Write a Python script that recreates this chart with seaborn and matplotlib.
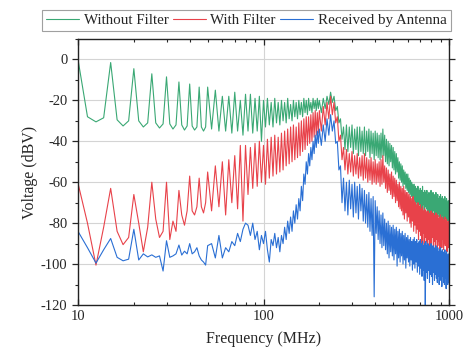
import numpy as np
import pandas as pd
import matplotlib
matplotlib.use('Agg')
import matplotlib.pyplot as plt
import seaborn as sns
from matplotlib.ticker import MultipleLocator, LogLocator, NullFormatter

# frequency grids (MHz) of the three parts of the spectrum
freq_a = np.arange(10, 50, 1.25)
freq_b = np.arange(50, 200, 2.5)
freq_c = np.arange(200, 1000.1, 5)

# Without Filter (dBV)
green_a = [0, -28, -30.5, -28.5, -1.5, -29.5, -32.5, -30, -4.5, -30, -33, -31,
           -7, -31, -33.5, -31.5, -8.5, -31.5, -34, -32, -11, -32, -34.5, -32.5,
           -12, -32.5, -34.5, -33, -13.5, -33, -35, -33]
green_b = [-13.5, -34, -15, -35, -18, -35, -18, -36, -16, -35, -20, -37, -17, -35, -17, -36,
           -19, -35, -18, -40, -20, -33, -19, -32, -21, -33, -19, -31, -21, -32, -20, -30,
           -21, -31, -19, -29, -22, -30, -20, -28, -21, -29, -20, -27, -21, -28, -19, -26,
           -20, -27, -19, -25, -21, -26, -19, -24, -20, -25, -19, -24]
green_c = [-20, -26, -19, -24, -18, -22, -16, -21, -18, -25,
           -23, -31, -29, -39, -33, -44, -32, -45, -33, -43,
           -32, -46, -34, -44, -33, -47, -33, -45, -35, -46,
           -33, -47, -35, -45, -34, -48, -35, -46, -36, -49,
           -35, -47, -36, -48, -37, -49, -36, -48, -34, -47,
           -37, -50, -39, -51, -40, -52, -41, -50, -42, -53,
           -43, -54, -45, -56, -46, -55, -48, -58, -50, -59,
           -51, -60, -52, -62, -54, -61, -55, -63, -56, -64,
           -56, -65, -58, -66, -59, -67, -60, -68, -61, -69,
           -61, -70, -62, -71, -63, -70, -62, -72, -64, -71,
           -63, -72, -64, -73, -62, -71, -65, -74, -64, -72,
           -65, -73, -64, -75, -66, -74, -65, -76, -66, -74,
           -64, -75, -66, -76, -65, -74, -67, -77, -66, -75,
           -65, -76, -67, -78, -66, -75, -68, -77, -67, -76,
           -66, -77, -68, -78, -67, -76, -69, -79, -68, -77,
           -67, -78, -69, -77, -68, -79, -70, -78, -69, -80, -71]

# With Filter (dBV)
red_a = [-60.5, -80, -100.5, -82, -63, -84, -90.5, -87, -66, -80, -94, -82,
         -60, -78, -87, -84, -60, -88, -79, -84, -64, -76, -81, -74,
         -57, -74, -76, -72, -58, -72, -75, -70]
red_b = [-55, -74, -52, -72, -50, -76, -49, -70, -47, -73, -42, -79, -42, -66, -43, -63,
         -41, -62, -40, -60, -42, -61, -39, -58, -38, -57, -37, -56, -38, -55, -36, -54,
         -35, -52, -34, -51, -33, -50, -32, -49, -33, -48, -31, -47, -30, -45, -29, -44,
         -28, -42, -28, -41, -27, -40, -26, -38, -25, -37, -26, -36]
red_c = [-25, -35, -23, -32, -21, -29, -18, -27, -21, -31,
         -28, -40, -37, -49, -43, -54, -44, -56, -46, -55,
         -45, -57, -47, -56, -46, -58, -48, -57, -47, -59,
         -46, -58, -48, -60, -49, -59, -48, -61, -50, -60,
         -49, -61, -51, -60, -50, -62, -49, -61, -47, -60,
         -52, -63, -53, -65, -54, -64, -56, -66, -55, -68,
         -57, -67, -58, -70, -59, -69, -61, -72, -60, -73,
         -62, -74, -63, -76, -62, -78, -64, -75, -65, -79,
         -65, -77, -66, -80, -67, -82, -68, -79, -67, -84,
         -69, -81, -70, -85, -71, -83, -70, -88, -72, -84,
         -71, -86, -73, -90, -72, -85, -74, -92, -73, -87,
         -74, -89, -75, -96, -74, -88, -76, -100, -75, -90,
         -74, -91, -76, -87, -75, -93, -77, -89, -76, -92,
         -75, -88, -77, -94, -76, -89, -78, -91, -77, -95,
         -76, -89, -78, -92, -77, -88, -79, -93, -78, -90,
         -77, -91, -79, -88, -78, -94, -80, -90, -79, -92, -80]

# Received by Antenna (dBV)
blue_a = [-84, -92, -99.5, -93, -87.5, -96.7, -98.4, -97.6, -83, -98, -95, -96.5,
          -95.5, -96.7, -96, -103.4, -88.6, -96.7, -96, -95, -90.7, -95.6, -93.7, -95,
          -90, -95, -94, -92, -96, -98, -99, -100.5]
blue_b = [-91, -90, -97, -86, -97, -92, -94, -89, -91, -85, -89, -83, -80, -81, -86, -80,
          -88, -84, -93, -86, -90, -84, -93, -99, -88, -91, -85, -92, -87, -94, -86, -90,
          -82, -88, -79, -85, -77, -84, -74, -80, -71, -78, -68, -74, -62, -69, -56, -61,
          -50, -56, -46, -52, -43, -49, -40, -46, -37, -43, -35, -41]
blue_c = [-34, -42, -32, -40, -29, -37, -27, -35, -30, -41,
          -40, -54, -52, -70, -58, -74, -60, -76, -59, -73,
          -61, -77, -60, -75, -62, -78, -61, -74, -63, -79,
          -64, -80, -66, -82, -65, -84, -68, -86, -67, -116,
          -69, -85, -72, -88, -74, -90, -76, -92, -75, -91,
          -78, -93, -80, -95, -79, -97, -81, -94, -82, -96,
          -81, -98, -83, -95, -82, -101, -84, -97, -83, -99,
          -85, -96, -84, -100, -86, -98, -85, -102, -87, -97,
          -86, -99, -88, -101, -87, -98, -89, -103, -88, -100,
          -87, -102, -89, -99, -88, -104, -90, -101, -89, -105,
          -88, -102, -90, -106, -89, -103, -91, -108, -90, -124,
          -89, -104, -91, -107, -90, -103, -92, -109, -91, -105,
          -90, -106, -92, -110, -91, -104, -93, -108, -92, -105,
          -91, -107, -93, -109, -92, -106, -94, -110, -93, -107,
          -92, -108, -94, -111, -93, -106, -95, -109, -94, -110,
          -93, -107, -95, -112, -94, -108, -96, -110, -95, -109, -96]

series = ['Without Filter', 'With Filter', 'Received by Antenna']
colors = ['#3aa874', '#e8424a', '#2a6fd4']

freq = np.concatenate([freq_a, freq_b, freq_c])
frames = []
for name, parts in zip(series, [(green_a, green_b, green_c),
                                (red_a, red_b, red_c),
                                (blue_a, blue_b, blue_c)]):
    volt = np.concatenate([np.array(p, dtype=float) for p in parts])
    frames.append(pd.DataFrame({'Frequency': freq, 'Voltage': volt, 'Series': name}))
df = pd.concat(frames, ignore_index=True)

sns.set_style('ticks')
plt.rcParams['font.family'] = ['Liberation Serif', 'DejaVu Serif']
plt.rcParams['axes.unicode_minus'] = False

fig = plt.figure(figsize=(4.74, 3.57), dpi=100)
ax = fig.add_axes([78 / 474, 1 - 305 / 357, 371 / 474, 266 / 357])

sns.lineplot(data=df, x='Frequency', y='Voltage', hue='Series', hue_order=series,
             palette=colors, estimator=None, sort=False, linewidth=0.8, ax=ax)

ax.set_xscale('log')
ax.set_xlim(10, 1000)
ax.set_ylim(-120, 10)
ax.set_xticks([10, 100, 1000])
ax.set_xticklabels(['10', '100', '1000'])
ax.xaxis.set_minor_locator(LogLocator(base=10, subs=np.arange(2, 10)))
ax.xaxis.set_minor_formatter(NullFormatter())
ax.set_yticks(np.arange(-120, 1, 20))
ax.yaxis.set_minor_locator(MultipleLocator(10))

ax.grid(True, which='major', color='#d4d4d4', linewidth=0.8)
ax.set_axisbelow(True)
for sp in ax.spines.values():
    sp.set_linewidth(1.0)
    sp.set_color('#222222')

ax.tick_params(axis='both', which='major', labelsize=10.5, length=4, width=0.9)
ax.tick_params(axis='both', which='minor', length=2.5, width=0.8)
ax.tick_params(axis='x', which='both', direction='in', top=True, bottom=True)
ax.tick_params(axis='y', which='both', right=True, direction='inout')
ax.tick_params(axis='y', which='both', direction='out', left=True)

ax.set_xlabel('Frequency (MHz)', fontsize=11.5, labelpad=6)
ax.set_ylabel('Voltage (dBV)', fontsize=11.5, labelpad=2)

sns.move_legend(ax, 'lower center', bbox_to_anchor=(0.454, 1.03), ncol=3, title=None,
                frameon=True, fontsize=10.8, handlelength=2.2, handletextpad=0.3,
                columnspacing=0.3, borderpad=0.25, fancybox=False, edgecolor='#888888',
                borderaxespad=0)
leg = ax.get_legend()
leg.get_frame().set_linewidth(0.8)
for h in leg.get_lines():
    h.set_linewidth(0.8)

fig.savefig('out.png', dpi=100)
